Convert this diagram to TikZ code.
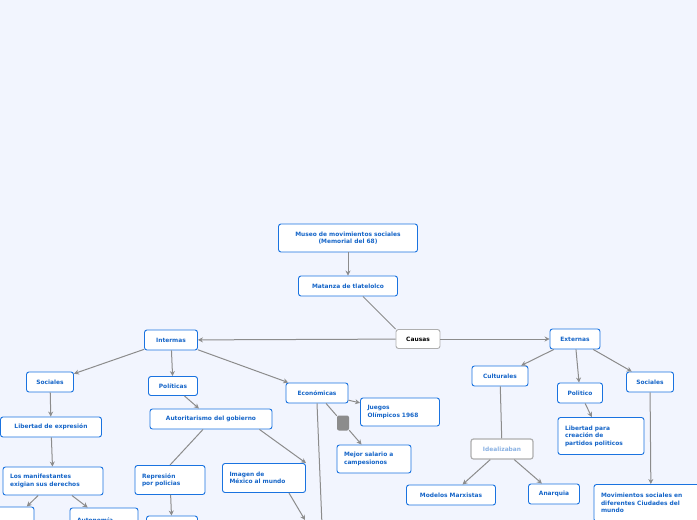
\documentclass[tikz,border=0pt]{standalone}
\usepackage{fontspec}
\setmainfont{DejaVu Sans}
\usetikzlibrary{arrows.meta}
\definecolor{bg}{HTML}{F2F5FE}
\definecolor{bl}{HTML}{1A73E0}
\definecolor{tx}{HTML}{1565C8}
\definecolor{ln}{HTML}{8C8C8C}
\begin{document}
\begin{tikzpicture}[x=1pt,y=-1pt,
 bx/.style={draw=bl,line width=0.9pt,rounded corners=2.5pt,fill=white,font=\bfseries\fontsize{5.9}{7.4}\selectfont,text=tx,inner sep=0pt},
 gx/.style={bx,draw=ln!70},
 ar/.style={draw=ln,line width=1pt,-{Stealth[length=5pt,width=5pt]}},
 pl/.style={draw=ln,line width=1pt}]
\fill[bg] (0,0) rectangle (697,520);
\clip (0,0) rectangle (697,520);
\def\B#1#2#3#4#5#6{\node[bx,minimum width=#4,minimum height=#5,text width=#4-14,align=left] (#1) at (#2,#3) {#6};}
\def\C#1#2#3#4#5#6{\node[bx,minimum width=#4,minimum height=#5,align=center] (#1) at (#2,#3) {#6};}
\C{museo}{348}{238}{139}{28}{Museo de movimientos sociales\\(Memorial del 68)}
\C{matanza}{348}{286}{99}{20}{Matanza de tlatelolco}
\node[gx,text=black,minimum width=44,minimum height=19] (causas) at (418,339) {Causas};
\C{intermas}{171}{340}{53}{20}{Intermas}
\C{externas}{575}{339}{50}{20}{Externas}
\C{socL}{50}{382}{47}{20}{Sociales}
\C{pol}{173}{386}{49}{19}{Políticas}
\C{eco}{317}{393}{62}{20}{Económicas}
\B{juegos}{400}{412}{79}{28}{Juegos\\Olímpicos 1968}
\node[fill=ln,rounded corners=2pt,minimum width=12,minimum height=15,inner sep=0] (sq) at (343,423) {};
\B{mejor}{374}{459}{74}{28}{Mejor salario a\\campesionos}
\C{libexp}{51}{427}{101}{20}{Libertad de expresión}
\C{auto}{211}{419}{122}{20}{Autoritarismo del gobierno}
\B{manif}{53}{481}{100}{28}{Los manifestantes\\exigian sus derechos}
\B{repr}{170}{480}{70}{29}{Represión\\por policias}
\B{imagen}{264}{478}{83}{29}{Imagen de\\México al mundo}
\C{cult}{500}{376}{56}{20}{Culturales}
\C{polt}{580}{393}{45}{20}{Politico}
\C{socR}{650}{382}{47}{20}{Sociales}
\B{libpar}{601}{436}{86}{37}{Libertad para\\creación de\\partidos politicos}
\node[gx,line width=1.2pt,text=tx!50,minimum width=62,minimum height=20] (ideal) at (502,449) {Idealizaban};
\C{modelos}{451}{495}{89}{20}{Modelos Marxistas}
\C{anar}{554}{494}{51}{20}{Anarquia}
\B{movi}{651}{503}{114}{37}{Movimientos sociales en\\diferentes Ciudades del\\mundo}
\C{pa}{14}{519}{40}{24}{}
\B{auton}{104}{520}{68}{24}{Autonomía}
\C{pb}{172}{528}{51}{24}{}
\coordinate (ia) at (305,520);
\coordinate (eb) at (322,525);
\draw[ar] (museo) -- (matanza);
\draw[pl] (matanza.south east) ++(-35,0) -- (causas.north west);
\draw[ar] (causas) -- (intermas);
\draw[ar] (causas) -- (externas);
\draw[ar] (intermas) -- (socL);
\draw[ar] (intermas) -- (pol);
\draw[ar] (intermas) -- (eco);
\draw[ar] (socL) -- (libexp);
\draw[ar] (libexp) -- (manif);
\draw[ar] (manif) -- (pa);
\draw[ar] (manif) -- (auton);
\draw[ar] (pol) -- (auto);
\draw[pl] (auto.south) ++(-8,0) -- (repr.north);
\draw[ar] (auto.south east) ++(-13,0) -- (imagen.north east);
\draw[ar] (repr) -- (pb);
\draw[ar] (imagen.south east) ++(-17,0) -- (ia);
\draw[pl] (eco.south) -- (eb);
\draw[ar] (eco) -- (juegos);
\draw[pl] (eco) -- (sq);
\draw[ar] (sq) -- (mejor);
\draw[ar] (externas) -- (cult);
\draw[ar] (externas) -- (polt);
\draw[ar] (externas) -- (socR);
\draw[ar] (polt) -- (libpar);
\draw[pl] (cult) -- (ideal);
\draw[ar] (ideal) -- (modelos);
\draw[ar] (ideal) -- (anar);
\draw[ar] (socR) -- (movi);
\end{tikzpicture}
\end{document}
